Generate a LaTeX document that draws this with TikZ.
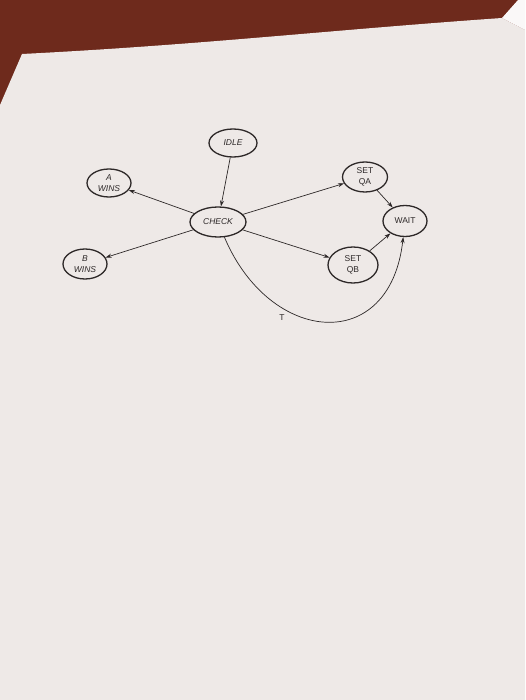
\documentclass[tikz,border=0pt]{standalone}
\usepackage{fontspec}
\setmainfont{Liberation Sans}
\usetikzlibrary{arrows.meta,shapes.geometric}
\definecolor{paper}{RGB}{238,233,231}
\definecolor{table}{RGB}{110,42,28}
\definecolor{ink}{RGB}{45,40,40}
\tikzset{
  st/.style={ellipse,draw=ink,line width=1.3pt,inner sep=0pt,font=\fontsize{8.5}{9}\selectfont,text=ink,align=center},
  arr/.style={-{Stealth[length=6pt,width=4pt]},draw=ink,line width=0.7pt},
}
\begin{document}
\begin{tikzpicture}[x=1pt,y=-1pt]
\useasboundingbox (0,0) rectangle (525,700);
\fill[table] (0,0) rectangle (525,700);
\fill[paper] (0,105) -- (22,54) .. controls (200,45) and (330,30) .. (502,18) -- (525,30) -- (525,700) -- (0,700) -- cycle;
\fill[white!70!paper] (502,18) -- (518,0) -- (525,0) -- (525,30) -- cycle;
\node[st,minimum width=48pt,minimum height=28pt] (idle) at (233,143) {\itshape IDLE};
\node[st,minimum width=44pt,minimum height=28pt] (awins) at (109,183) {\itshape A\\[2pt]\itshape WINS};
\node[st,minimum width=56pt,minimum height=30pt] (check) at (218,222) {\itshape CHECK};
\node[st,minimum width=44pt,minimum height=30pt] (bwins) at (85,264) {\itshape B\\[2pt]\itshape WINS};
\node[st,minimum width=45pt,minimum height=30pt] (setqa) at (365,177) {SET\\[2pt]QA};
\node[st,minimum width=44pt,minimum height=31pt] (wait) at (405,221) {WAIT};
\node[st,minimum width=50pt,minimum height=36pt] (setqb) at (353,265) {SET\\[2pt]QB};
\node[font=\fontsize{8.5}{9}\selectfont,text=ink] (tlabel) at (282,318) {T};
\draw[arr] (idle) -- (check);
\draw[arr] (check) -- (awins);
\draw[arr] (check) -- (bwins);
\draw[arr] (check) -- (setqa);
\draw[arr] (check) -- (setqb);
\draw[arr] (setqa) -- (wait);
\draw[arr] (setqb) -- (wait);
\draw[arr] (check) .. controls (270,345) and (390,355) .. (wait);
\end{tikzpicture}
\end{document}
